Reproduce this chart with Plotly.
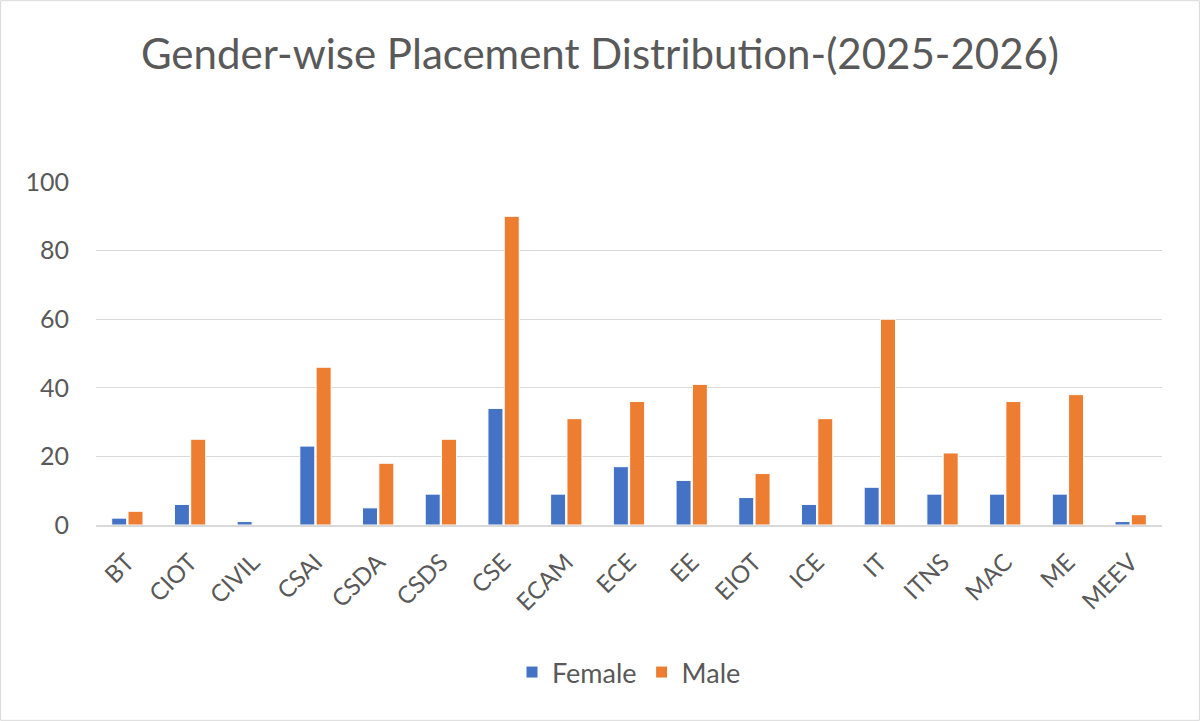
import plotly.graph_objects as go

categories = ["BT", "CIOT", "CIVIL", "CSAI", "CSDA", "CSDS", "CSE", "ECAM", "ECE",
              "EE", "EIOT", "ICE", "IT", "ITNS", "MAC", "ME", "MEEV"]
female = [2, 6, 1, 23, 5, 9, 34, 9, 17, 13, 8, 6, 11, 9, 9, 9, 1]
male = [4, 25, 0, 46, 18, 25, 90, 31, 36, 41, 15, 31, 60, 21, 36, 38, 3]
y_ticks = [0, 20, 40, 60, 80, 100]

FONT = "Lato, 'Open Sans', sans-serif"
GREY = "#595959"

fig = go.Figure()
fig.add_trace(go.Bar(name="Female", x=categories, y=female,
                     marker=dict(color="#4472C4", line=dict(color="white", width=1))))
fig.add_trace(go.Bar(name="Male", x=categories, y=male,
                     marker=dict(color="#ED7D31", line=dict(color="white", width=1))))

fig.update_layout(
    width=1200, height=721,
    paper_bgcolor="white", plot_bgcolor="white",
    barmode="group", bargap=0.48, bargroupgap=0.08,
    margin=dict(l=96, r=38, t=182, b=196),
    title=dict(text="Gender-wise Placement Distribution-(2025-2026)",
               x=0.5, xanchor="center", y=0.925, yanchor="middle",
               font=dict(family=FONT, size=42, color=GREY)),
    font=dict(family=FONT, color=GREY),
    legend=dict(orientation="h", x=0.5, xanchor="center", y=-0.43, yanchor="middle",
                font=dict(family=FONT, size=27, color=GREY), itemwidth=30,
                traceorder="normal"),
    xaxis=dict(tickangle=-45, tickfont=dict(size=24, color=GREY), showgrid=False,
               showline=True, linecolor="#d9d9d9", linewidth=1.5, ticks="",
               ticklabelstandoff=12),
    yaxis=dict(range=[0, 100], tickvals=y_ticks, tickfont=dict(size=25, color=GREY),
               gridcolor="#d9d9d9", gridwidth=1.3, zeroline=False, showline=False,
               ticks="", ticklabelstandoff=26),
    shapes=[dict(type="rect", xref="paper", yref="paper",
                 x0=-96/1066 + 0.0006, x1=1 + 38/1066 - 0.0006,
                 y0=-196/343 + 0.002, y1=1 + 182/343 - 0.002,
                 line=dict(color="#d9d9d9", width=1), layer="below")],
)

fig.write_html("out.html")
